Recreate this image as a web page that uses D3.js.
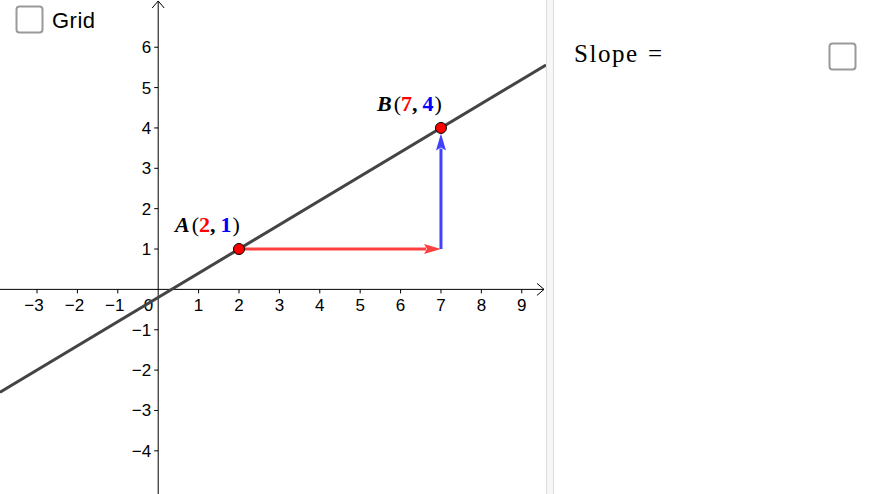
<!DOCTYPE html>
<html>
<head>
<meta charset="utf-8">
<script src="https://cdn.jsdelivr.net/npm/d3@7"></script>
<style>
  body { margin: 0; background: #fff; }
  svg { display: block; }
</style>
</head>
<body>
<div class="svg"></div>
<script>
'use strict';

var xTicks = [-3, -2, -1, 1, 2, 3, 4, 5, 6, 7, 8, 9];
var yTicks = [-4, -3, -2, -1, 1, 2, 3, 4, 5, 6];
var pointA = [2, 1];
var pointB = [7, 4];
var pointLabels = ['A', 'B'];

var width = 870, height = 494;
var viewWidth = 546;

var x = d3.scaleLinear().domain([-3.916, 9.6]).range([0, viewWidth]);
var y = d3.scaleLinear().domain([7.17, -5.07]).range([0, height]);

var svg = d3.select('div.svg').append('svg')
    .attr('width', width)
    .attr('height', height);

var defs = svg.append('defs');
defs.append('clipPath').attr('id', 'view')
    .append('rect').attr('x', 0).attr('y', 0).attr('width', viewWidth).attr('height', height);

// divider between graphics and algebra view
svg.append('rect')
    .attr('x', 546).attr('y', 0).attr('width', 8).attr('height', height)
    .attr('fill', '#f7f7f7');
svg.append('line').attr('x1', 546.5).attr('x2', 546.5).attr('y1', 0).attr('y2', height)
    .attr('stroke', '#dcdcdc');
svg.append('line').attr('x1', 553.5).attr('x2', 553.5).attr('y1', 0).attr('y2', height)
    .attr('stroke', '#dcdcdc');

var view = svg.append('g').attr('clip-path', 'url(#view)');

var x0 = x(0), y0 = y(0);

// axes
var axes = view.append('g').attr('stroke', '#000').attr('fill', 'none').attr('stroke-width', 1);
axes.append('line').attr('x1', 0).attr('x2', viewWidth - 2).attr('y1', y0).attr('y2', y0);
axes.append('line').attr('x1', x0).attr('x2', x0).attr('y1', 1).attr('y2', height);
axes.append('path')
    .attr('d', 'M' + (viewWidth - 9) + ',' + (y0 - 6) + 'L' + (viewWidth - 2) + ',' + y0 + 'L' + (viewWidth - 9) + ',' + (y0 + 6));
axes.append('path')
    .attr('d', 'M' + (x0 - 6) + ',8L' + x0 + ',1L' + (x0 + 6) + ',8');

axes.selectAll('line.xt').data(xTicks).enter().append('line')
    .attr('class', 'xt')
    .attr('x1', function (d) { return x(d); })
    .attr('x2', function (d) { return x(d); })
    .attr('y1', y0).attr('y2', y0 + 4);

axes.selectAll('line.yt').data(yTicks).enter().append('line')
    .attr('class', 'yt')
    .attr('x1', x0 - 4).attr('x2', x0)
    .attr('y1', function (d) { return y(d); })
    .attr('y2', function (d) { return y(d); });

var labels = view.append('g')
    .attr('font-family', 'Liberation Sans, Arial, sans-serif')
    .attr('font-size', 17)
    .attr('fill', '#000');

function fmt(d) {
    return d < 0 ? '\u2212' + Math.abs(d) : String(d);
}

labels.selectAll('text.xl').data(xTicks).enter().append('text')
    .attr('class', 'xl')
    .attr('x', function (d) { return x(d) - (d < 0 ? 3 : 0); })
    .attr('y', y0 + 22)
    .attr('text-anchor', 'middle')
    .text(fmt);

labels.selectAll('text.yl').data(yTicks).enter().append('text')
    .attr('class', 'yl')
    .attr('x', x0 - 7)
    .attr('y', function (d) { return y(d) + 6; })
    .attr('text-anchor', 'end')
    .text(fmt);

labels.append('text')
    .attr('x', x0 - 5).attr('y', y0 + 22)
    .attr('text-anchor', 'end')
    .text('0');

// line through A and B
var slope = (pointB[1] - pointA[1]) / (pointB[0] - pointA[0]);
var xd = x.domain();
var line = d3.line()
    .x(function (d) { return x(d); })
    .y(function (d) { return y(pointA[1] + slope * (d - pointA[0])); });
view.append('path')
    .attr('d', line(xd))
    .attr('stroke', '#444')
    .attr('stroke-width', 3)
    .attr('fill', 'none');

// vectors
function vector(from, to, color) {
    var x1 = x(from[0]), y1 = y(from[1]), x2 = x(to[0]), y2 = y(to[1]);
    var dx = x2 - x1, dy = y2 - y1, len = Math.sqrt(dx * dx + dy * dy);
    var ux = dx / len, uy = dy / len;
    var head = 17, half = 5;
    var bx = x2 - ux * head, by = y2 - uy * head;
    view.append('line')
        .attr('x1', x1).attr('y1', y1)
        .attr('x2', bx + ux * 2).attr('y2', by + uy * 2)
        .attr('stroke', color).attr('stroke-width', 3);
    view.append('path')
        .attr('d', 'M' + x2 + ',' + y2 +
            'L' + (bx - uy * half) + ',' + (by + ux * half) +
            'L' + (bx + ux * 3) + ',' + (by + uy * 3) +
            'L' + (bx + uy * half) + ',' + (by - ux * half) + 'Z')
        .attr('fill', color);
}
var corner = [pointB[0], pointA[1]];
vector(pointA, corner, '#ff4040');
vector(corner, [pointB[0], pointB[1] - 0.14], '#4040ff');

// points
view.selectAll('circle.pt').data([pointA, pointB]).enter().append('circle')
    .attr('class', 'pt')
    .attr('cx', function (d) { return x(d[0]); })
    .attr('cy', function (d) { return y(d[1]); })
    .attr('r', 5.5)
    .attr('fill', '#ff0000')
    .attr('stroke', '#000')
    .attr('stroke-width', 1);

// point labels
[pointA, pointB].forEach(function (p, i) {
    var t = view.append('text')
        .attr('x', x(p[0]) - 64)
        .attr('y', y(p[1]) - 17)
        .attr('font-family', 'Liberation Serif, Times New Roman, serif')
        .attr('font-size', 22);
    t.append('tspan').attr('font-style', 'italic').attr('font-weight', 'bold').text(pointLabels[i]);
    t.append('tspan').attr('dx', 2).text('(');
    t.append('tspan').attr('font-weight', 'bold').attr('fill', '#ff0000').text(p[0]);
    t.append('tspan').attr('font-weight', 'bold').text(',');
    t.append('tspan').attr('dx', 5).attr('font-weight', 'bold').attr('fill', '#0000ff').text(p[1]);
    t.append('tspan').attr('dx', 1).text(')');
});

// Grid checkbox
svg.append('rect')
    .attr('x', 16.5).attr('y', 6.5).attr('width', 26).attr('height', 26)
    .attr('rx', 3)
    .attr('fill', '#fff').attr('stroke', '#9a9a9a').attr('stroke-width', 2);
svg.append('text')
    .attr('x', 52).attr('y', 28)
    .attr('font-family', 'Liberation Sans, Arial, sans-serif')
    .attr('font-size', 22)
    .attr('fill', '#000')
    .attr('textLength', 43)
    .text('Grid');

// algebra view
svg.append('text')
    .attr('x', 574).attr('y', 62)
    .attr('font-family', 'Liberation Serif, Times New Roman, serif')
    .attr('font-size', 25)
    .attr('fill', '#000')
    .attr('textLength', 63)
    .text('Slope');
svg.append('text')
    .attr('x', 648).attr('y', 62)
    .attr('font-family', 'Liberation Serif, Times New Roman, serif')
    .attr('font-size', 25)
    .attr('fill', '#000')
    .attr('textLength', 19)
    .text('=');
svg.append('rect')
    .attr('x', 829.5).attr('y', 43.5).attr('width', 26).attr('height', 26)
    .attr('rx', 3)
    .attr('fill', '#fff').attr('stroke', '#9a9a9a').attr('stroke-width', 2);
</script>
</body>
</html>
